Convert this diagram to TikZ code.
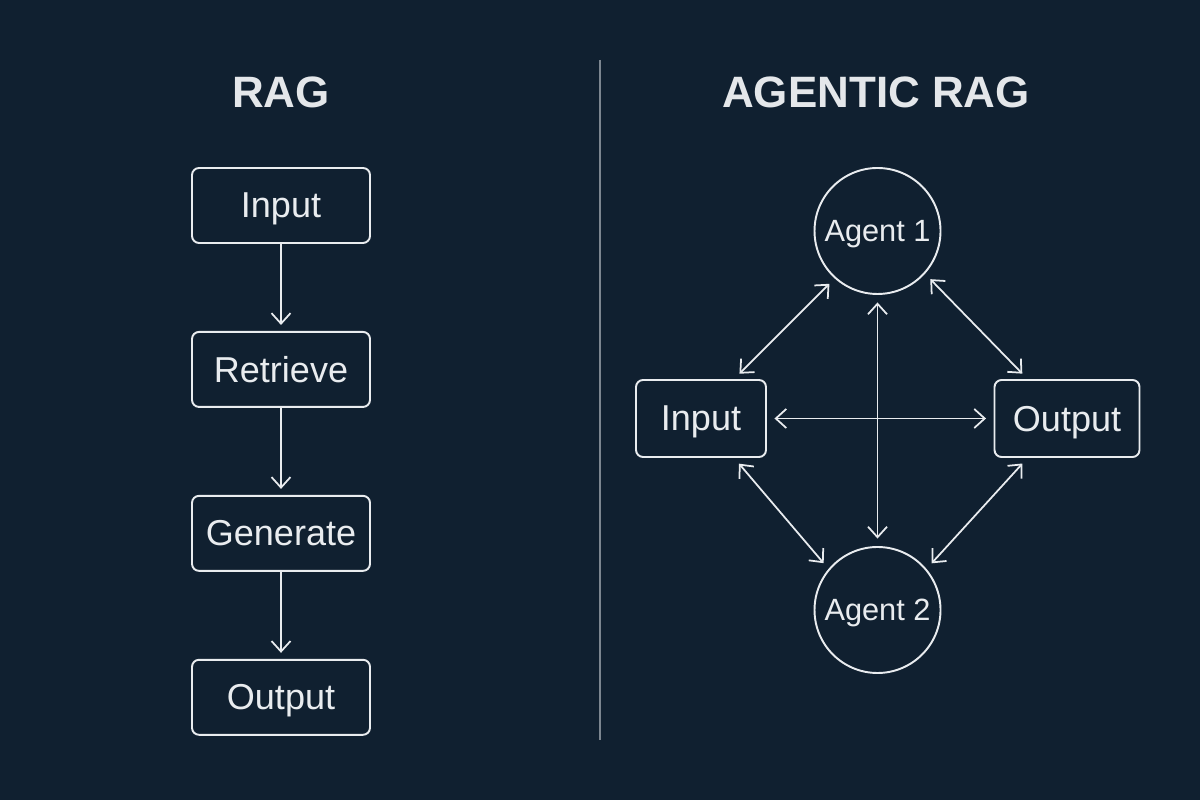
\documentclass[tikz,border=0pt]{standalone}
\usepackage{fontspec}
\setmainfont{Liberation Sans}
\usepackage{xcolor}
\usepackage{tikz}
\usetikzlibrary{arrows.meta,positioning,calc}

\definecolor{navybg}{HTML}{102030}
\definecolor{linewhite}{HTML}{E9ECEF}
\definecolor{titlegrey}{HTML}{E4E7EA}
\definecolor{divgrey}{HTML}{7C8690}

\begin{document}
\begin{tikzpicture}[
  node distance = 1.74cm,
  stepbox/.style = {draw=linewhite, line width=1.1pt, rounded corners=4pt,
                    text=linewhite, minimum width=#1, minimum height=1.5cm,
                    inner sep=0pt, text depth=0pt,
                    font=\fontsize{20.5}{24}\selectfont},
  stepbox/.default = 3.56cm,
  agent/.style  = {draw=linewhite, line width=1.1pt, circle,
                   minimum size=2.52cm, inner sep=0pt, text=linewhite,
                   text depth=0pt, font=\fontsize{17.5}{20}\selectfont},
  arr/.style    = {-{Straight Barb[length=2.1mm,width=3.8mm]},
                   line width=1pt, draw=linewhite, shorten >=1.2mm},
  biarr/.style  = {{Straight Barb[length=2.1mm,width=3.8mm]}-{Straight Barb[length=2.1mm,width=3.8mm]},
                   line width=1pt, draw=linewhite,
                   shorten <=1.5mm, shorten >=1.5mm},
  ttl/.style    = {text=titlegrey, font=\bfseries\fontsize{25}{30}\selectfont},
]

%% ── BACKGROUND ──────────────────────────────────────────────────────────
\fill[navybg] (0,0) rectangle (24,16);

%% ── TITLES AND DIVIDER ──────────────────────────────────────────────────
\node[ttl] (rag-title)   at (5.62,14.16)  {RAG};
\node[ttl] (agent-title) at (17.52,14.16) {AGENTIC RAG};
\draw[divgrey, line width=0.8pt] (12,14.8) -- (12,1.2);

%% ── PLAIN RAG PIPELINE ──────────────────────────────────────────────────
\node[stepbox] (rag-in) at (5.62,11.89) {Input};
\node[stepbox, below=of rag-in]  (rag-ret) {Retrieve};
\node[stepbox, below=of rag-ret] (rag-gen) {Generate};
\node[stepbox, below=of rag-gen] (rag-out) {Output};

\draw[arr] (rag-in)  -- (rag-ret);
\draw[arr] (rag-ret) -- (rag-gen);
\draw[arr] (rag-gen) -- (rag-out);

%% ── AGENTIC RAG GRAPH ───────────────────────────────────────────────────
\node[stepbox=2.6cm, minimum height=1.54cm] (ag-in)  at (14.02,7.63) {Input};
\node[stepbox=2.9cm, minimum height=1.54cm] (ag-out) at (21.34,7.63) {Output};
\node[agent] (ag-one) at (17.55,11.38) {Agent 1};
\node[agent] (ag-two) at (17.55,3.8)   {Agent 2};

\draw[biarr] (ag-in)  -- (ag-out);
\draw[biarr] (ag-one) -- (ag-two);
\draw[biarr] (ag-in.50)   -- (ag-one.228);
\draw[biarr] (ag-one.318) -- (ag-out.135);
\draw[biarr] (ag-in.310)  -- (ag-two.140);
\draw[biarr] (ag-out.225) -- (ag-two.40);

\end{tikzpicture}
\end{document}
